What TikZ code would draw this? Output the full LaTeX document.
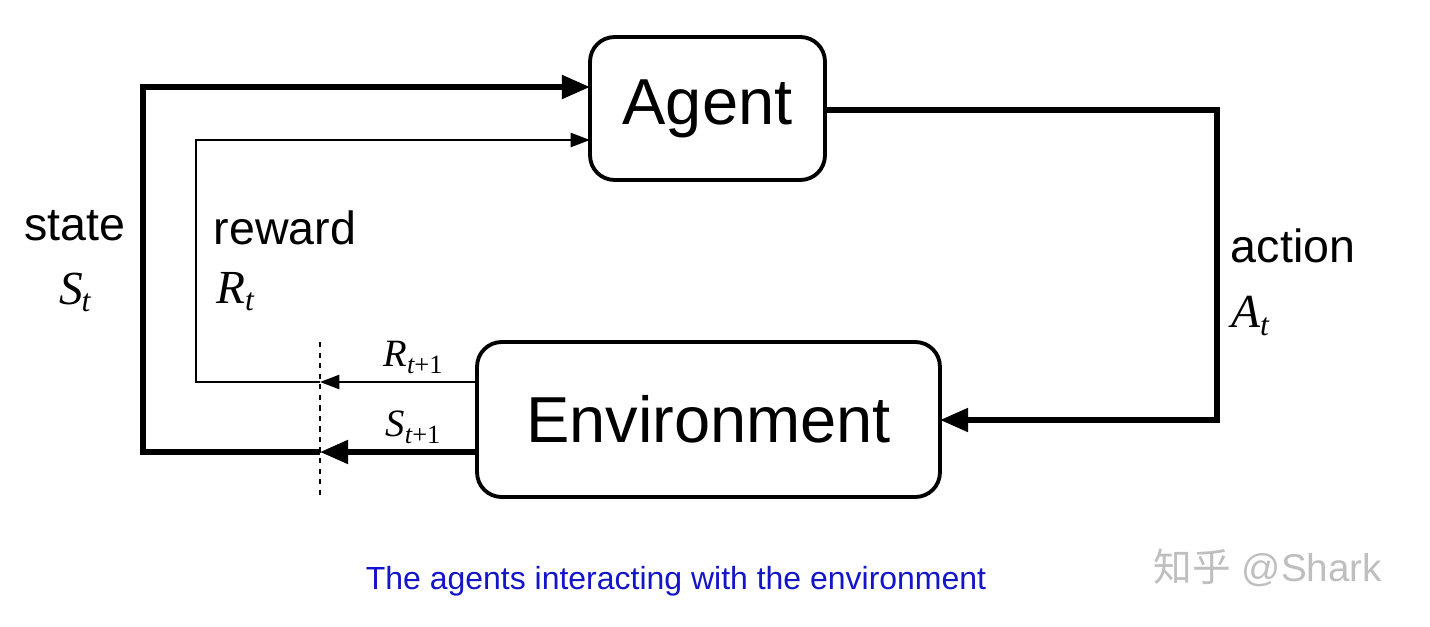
\documentclass[tikz,border=0pt]{standalone}
\usepackage{fontspec}
\setmainfont{Liberation Sans}
\newfontfamily\serifit{Liberation Serif}[ItalicFont={Liberation Serif Italic}]
\newfontfamily\cjk{Noto Sans CJK SC}
\usetikzlibrary{arrows.meta}
\begin{document}
\begin{tikzpicture}[x=0.02cm,y=-0.02cm,
 box/.style={draw,line width=2.2pt,rounded corners=14pt,inner sep=0,font=\fontsize{37}{40}\selectfont},
 thk/.style={line width=3.2pt},
 thn/.style={line width=1.3pt},
 big/.style={-{Triangle[length=16pt,width=13pt]}},
 small/.style={-{Triangle[length=11pt,width=8pt]}},
 lab/.style={font=\fontsize{26.5}{28}\selectfont},
 mlab/.style={font=\serifit\itshape\fontsize{27}{29}\selectfont}]
\useasboundingbox (0,0) rectangle (1430,626);
\node[box,minimum width=4.7cm,minimum height=2.86cm] (agent) at (707.5,108.5) {Agent};
\node[box,minimum width=9.26cm,minimum height=3.1cm] (env) at (708.5,419.5) {Environment};
\coordinate (ain) at (590,87); \coordinate (rin) at (590,140);
\coordinate (aout) at (825,110); \coordinate (ein) at (940,420);
\coordinate (eR) at (477,382); \coordinate (eS) at (477,452);
\coordinate (dR) at (320,382); \coordinate (dS) at (320,452);
\draw[thk,big] (dS) -| (143,87) -- (ain);
\draw[thn,small] (dR) -| (196,140) -- (rin);
\draw[thk,big] (aout) -| (1217,420) -- (ein);
\draw[thn,small] (eR) -- (dR);
\draw[thk,big] (eS) -- (dS);
\draw[dashed,line width=0.9pt] (320,342) -- (320,497);
\node[lab] (s) at (75,226) {state};
\node[mlab] (st) at (75,292) {S\kern-1pt\raisebox{-4pt}{\fontsize{18}{18}\selectfont t}};
\node[lab] (r) at (285,228) {reward};
\node[mlab] (rt) at (235,292) {R\raisebox{-4pt}{\fontsize{18}{18}\selectfont t}};
\node[lab] (a) at (1293,246) {action};
\node[mlab] (atl) at (1250,316) {A\raisebox{-4pt}{\fontsize{18}{18}\selectfont t}};
\node[mlab,font=\serifit\itshape\fontsize{22}{24}\selectfont] (r1) at (413,357) {R\raisebox{-4pt}{\fontsize{15}{15}\selectfont t\upshape+1}};
\node[mlab,font=\serifit\itshape\fontsize{22}{24}\selectfont] (s1) at (413,427) {S\raisebox{-4pt}{\fontsize{15}{15}\selectfont t\upshape+1}};
\node[text={rgb,255:red,20;green,20;blue,200},font=\fontsize{18.2}{20}\selectfont] (cap) at (676,581) {The agents interacting with the environment};
\node[text=black!25,font=\fontsize{22}{24}\selectfont] (wm) at (1268,568) {{\cjk 知乎} @Shark};
\end{tikzpicture}
\end{document}
